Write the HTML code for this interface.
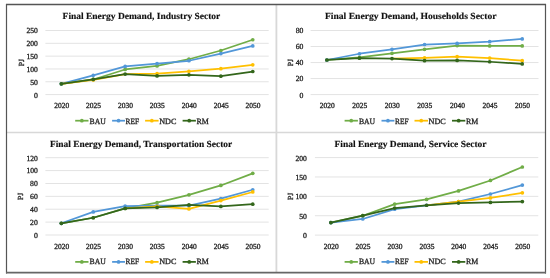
<!DOCTYPE html>
<html><head><meta charset="utf-8"><style>
html,body{margin:0;padding:0;background:#fff;}
body{width:550px;height:278px;overflow:hidden;}
svg{display:block;will-change:transform;font-family:"Liberation Serif", serif;text-rendering:geometricPrecision;}
text{fill:#1f1f1f;stroke:#1f1f1f;stroke-width:0.3px;}
text.t{stroke:#111;stroke-width:0.15px;fill:#111;}
</style></head><body>
<svg width="550" height="278" viewBox="0 0 550 278">
<line x1="276.4" y1="5" x2="276.4" y2="272" stroke="#D8D8D8" stroke-width="1.8"/>
<line x1="6" y1="132.5" x2="545" y2="132.5" stroke="#D8D8D8" stroke-width="1.6"/>
<line x1="45.4" y1="94.6" x2="268.7" y2="94.6" stroke="#E3E3E3" stroke-width="1"/>
<text x="37.9" y="97.5" text-anchor="end" textLength="3.9" lengthAdjust="spacingAndGlyphs" font-size="7.8">0</text>
<line x1="45.4" y1="81.78" x2="268.7" y2="81.78" stroke="#E3E3E3" stroke-width="1"/>
<text x="37.9" y="84.68" text-anchor="end" textLength="7.7" lengthAdjust="spacingAndGlyphs" font-size="7.8">50</text>
<line x1="45.4" y1="68.96" x2="268.7" y2="68.96" stroke="#E3E3E3" stroke-width="1"/>
<text x="37.9" y="71.86" text-anchor="end" textLength="11.4" lengthAdjust="spacingAndGlyphs" font-size="7.8">100</text>
<line x1="45.4" y1="56.14" x2="268.7" y2="56.14" stroke="#E3E3E3" stroke-width="1"/>
<text x="37.9" y="59.04" text-anchor="end" textLength="11.4" lengthAdjust="spacingAndGlyphs" font-size="7.8">150</text>
<line x1="45.4" y1="43.32" x2="268.7" y2="43.32" stroke="#E3E3E3" stroke-width="1"/>
<text x="37.9" y="46.22" text-anchor="end" textLength="11.4" lengthAdjust="spacingAndGlyphs" font-size="7.8">200</text>
<line x1="45.4" y1="30.5" x2="268.7" y2="30.5" stroke="#E3E3E3" stroke-width="1"/>
<text x="37.9" y="33.4" text-anchor="end" textLength="11.4" lengthAdjust="spacingAndGlyphs" font-size="7.8">250</text>
<text transform="translate(23.6,62.55) rotate(-90)" text-anchor="middle" font-size="7.8">PJ</text>
<text x="61.65" y="108.2" text-anchor="middle" textLength="15.0" lengthAdjust="spacingAndGlyphs" font-size="7.8">2020</text>
<text x="93.55" y="108.2" text-anchor="middle" textLength="15.0" lengthAdjust="spacingAndGlyphs" font-size="7.8">2025</text>
<text x="125.45" y="108.2" text-anchor="middle" textLength="15.0" lengthAdjust="spacingAndGlyphs" font-size="7.8">2030</text>
<text x="157.35" y="108.2" text-anchor="middle" textLength="15.0" lengthAdjust="spacingAndGlyphs" font-size="7.8">2035</text>
<text x="189.25" y="108.2" text-anchor="middle" textLength="15.0" lengthAdjust="spacingAndGlyphs" font-size="7.8">2040</text>
<text x="221.15" y="108.2" text-anchor="middle" textLength="15.0" lengthAdjust="spacingAndGlyphs" font-size="7.8">2045</text>
<text x="253.05" y="108.2" text-anchor="middle" textLength="15.0" lengthAdjust="spacingAndGlyphs" font-size="7.8">2050</text>
<polyline points="61.35,83.83 93.25,79.47 125.15,69.47 157.05,65.88 188.95,59.22 220.85,50.5 252.75,39.73" fill="none" stroke="#70AD47" stroke-width="1.75" stroke-linejoin="round" stroke-linecap="round"/>
<circle cx="61.35" cy="83.83" r="1.85" fill="#70AD47"/>
<circle cx="93.25" cy="79.47" r="1.85" fill="#70AD47"/>
<circle cx="125.15" cy="69.47" r="1.85" fill="#70AD47"/>
<circle cx="157.05" cy="65.88" r="1.85" fill="#70AD47"/>
<circle cx="188.95" cy="59.22" r="1.85" fill="#70AD47"/>
<circle cx="220.85" cy="50.5" r="1.85" fill="#70AD47"/>
<circle cx="252.75" cy="39.73" r="1.85" fill="#70AD47"/>
<polyline points="61.35,83.83 93.25,75.37 125.15,66.4 157.05,63.58 188.95,60.76 220.85,53.58 252.75,45.88" fill="none" stroke="#5297D8" stroke-width="1.75" stroke-linejoin="round" stroke-linecap="round"/>
<circle cx="61.35" cy="83.83" r="1.85" fill="#5297D8"/>
<circle cx="93.25" cy="75.37" r="1.85" fill="#5297D8"/>
<circle cx="125.15" cy="66.4" r="1.85" fill="#5297D8"/>
<circle cx="157.05" cy="63.58" r="1.85" fill="#5297D8"/>
<circle cx="188.95" cy="60.76" r="1.85" fill="#5297D8"/>
<circle cx="220.85" cy="53.58" r="1.85" fill="#5297D8"/>
<circle cx="252.75" cy="45.88" r="1.85" fill="#5297D8"/>
<polyline points="61.35,83.83 93.25,79.99 125.15,74.09 157.05,73.58 188.95,71.27 220.85,68.7 252.75,64.86" fill="none" stroke="#FFC000" stroke-width="1.75" stroke-linejoin="round" stroke-linecap="round"/>
<circle cx="93.25" cy="79.99" r="1.85" fill="#FFC000"/>
<circle cx="157.05" cy="73.58" r="1.85" fill="#FFC000"/>
<circle cx="188.95" cy="71.27" r="1.85" fill="#FFC000"/>
<circle cx="220.85" cy="68.7" r="1.85" fill="#FFC000"/>
<circle cx="252.75" cy="64.86" r="1.85" fill="#FFC000"/>
<polyline points="61.35,83.83 93.25,79.47 125.15,74.09 157.05,75.88 188.95,74.86 220.85,76.14 252.75,71.52" fill="none" stroke="#33661B" stroke-width="1.75" stroke-linejoin="round" stroke-linecap="round"/>
<circle cx="61.35" cy="83.83" r="1.85" fill="#33661B"/>
<circle cx="93.25" cy="79.47" r="1.85" fill="#33661B"/>
<circle cx="125.15" cy="74.09" r="1.85" fill="#33661B"/>
<circle cx="157.05" cy="75.88" r="1.85" fill="#33661B"/>
<circle cx="188.95" cy="74.86" r="1.85" fill="#33661B"/>
<circle cx="220.85" cy="76.14" r="1.85" fill="#33661B"/>
<circle cx="252.75" cy="71.52" r="1.85" fill="#33661B"/>
<text x="62.6" y="19" textLength="157.7" lengthAdjust="spacingAndGlyphs" font-size="9.3" font-weight="bold" class="t">Final Energy Demand, Industry Sector</text>
<line x1="75.2" y1="120.7" x2="88.5" y2="120.7" stroke="#70AD47" stroke-width="1.75"/>
<circle cx="81.85" cy="120.7" r="1.85" fill="#70AD47"/>
<text x="89.5" y="124" textLength="16.3" lengthAdjust="spacingAndGlyphs" font-size="8.0">BAU</text>
<line x1="112.1" y1="120.7" x2="125" y2="120.7" stroke="#5297D8" stroke-width="1.75"/>
<circle cx="118.55" cy="120.7" r="1.85" fill="#5297D8"/>
<text x="125.6" y="124" textLength="13.5" lengthAdjust="spacingAndGlyphs" font-size="8.0">REF</text>
<line x1="145.1" y1="120.7" x2="158.6" y2="120.7" stroke="#FFC000" stroke-width="1.75"/>
<circle cx="151.85" cy="120.7" r="1.85" fill="#FFC000"/>
<text x="159.2" y="124" textLength="17.2" lengthAdjust="spacingAndGlyphs" font-size="8.0">NDC</text>
<line x1="182.6" y1="120.7" x2="195.9" y2="120.7" stroke="#33661B" stroke-width="1.75"/>
<circle cx="189.25" cy="120.7" r="1.85" fill="#33661B"/>
<text x="196.5" y="124" textLength="12.3" lengthAdjust="spacingAndGlyphs" font-size="8.0">RM</text>
<line x1="310.6" y1="94.6" x2="538.5" y2="94.6" stroke="#E3E3E3" stroke-width="1"/>
<text x="303.4" y="97.5" text-anchor="end" textLength="3.9" lengthAdjust="spacingAndGlyphs" font-size="7.8">0</text>
<line x1="310.6" y1="78.57" x2="538.5" y2="78.57" stroke="#E3E3E3" stroke-width="1"/>
<text x="303.4" y="81.47" text-anchor="end" textLength="7.7" lengthAdjust="spacingAndGlyphs" font-size="7.8">20</text>
<line x1="310.6" y1="62.55" x2="538.5" y2="62.55" stroke="#E3E3E3" stroke-width="1"/>
<text x="303.4" y="65.45" text-anchor="end" textLength="7.7" lengthAdjust="spacingAndGlyphs" font-size="7.8">40</text>
<line x1="310.6" y1="46.52" x2="538.5" y2="46.52" stroke="#E3E3E3" stroke-width="1"/>
<text x="303.4" y="49.42" text-anchor="end" textLength="7.7" lengthAdjust="spacingAndGlyphs" font-size="7.8">60</text>
<line x1="310.6" y1="30.5" x2="538.5" y2="30.5" stroke="#E3E3E3" stroke-width="1"/>
<text x="303.4" y="33.4" text-anchor="end" textLength="7.7" lengthAdjust="spacingAndGlyphs" font-size="7.8">80</text>
<text transform="translate(292.8,62.55) rotate(-90)" text-anchor="middle" font-size="7.8">PJ</text>
<text x="327.18" y="108.2" text-anchor="middle" textLength="15.0" lengthAdjust="spacingAndGlyphs" font-size="7.8">2020</text>
<text x="359.74" y="108.2" text-anchor="middle" textLength="15.0" lengthAdjust="spacingAndGlyphs" font-size="7.8">2025</text>
<text x="392.29" y="108.2" text-anchor="middle" textLength="15.0" lengthAdjust="spacingAndGlyphs" font-size="7.8">2030</text>
<text x="424.85" y="108.2" text-anchor="middle" textLength="15.0" lengthAdjust="spacingAndGlyphs" font-size="7.8">2035</text>
<text x="457.41" y="108.2" text-anchor="middle" textLength="15.0" lengthAdjust="spacingAndGlyphs" font-size="7.8">2040</text>
<text x="489.96" y="108.2" text-anchor="middle" textLength="15.0" lengthAdjust="spacingAndGlyphs" font-size="7.8">2045</text>
<text x="522.52" y="108.2" text-anchor="middle" textLength="15.0" lengthAdjust="spacingAndGlyphs" font-size="7.8">2050</text>
<polyline points="326.88,59.99 359.44,57.34 391.99,53.34 424.55,49.33 457.11,45.56 489.66,45.88 522.22,45.88" fill="none" stroke="#70AD47" stroke-width="1.75" stroke-linejoin="round" stroke-linecap="round"/>
<circle cx="326.88" cy="59.99" r="1.85" fill="#70AD47"/>
<circle cx="359.44" cy="57.34" r="1.85" fill="#70AD47"/>
<circle cx="391.99" cy="53.34" r="1.85" fill="#70AD47"/>
<circle cx="424.55" cy="49.33" r="1.85" fill="#70AD47"/>
<circle cx="457.11" cy="45.56" r="1.85" fill="#70AD47"/>
<circle cx="489.66" cy="45.88" r="1.85" fill="#70AD47"/>
<circle cx="522.22" cy="45.88" r="1.85" fill="#70AD47"/>
<polyline points="326.88,59.99 359.44,53.74 391.99,49.33 424.55,44.52 457.11,43.4 489.66,41.72 522.22,38.91" fill="none" stroke="#5297D8" stroke-width="1.75" stroke-linejoin="round" stroke-linecap="round"/>
<circle cx="326.88" cy="59.99" r="1.85" fill="#5297D8"/>
<circle cx="359.44" cy="53.74" r="1.85" fill="#5297D8"/>
<circle cx="391.99" cy="49.33" r="1.85" fill="#5297D8"/>
<circle cx="424.55" cy="44.52" r="1.85" fill="#5297D8"/>
<circle cx="457.11" cy="43.4" r="1.85" fill="#5297D8"/>
<circle cx="489.66" cy="41.72" r="1.85" fill="#5297D8"/>
<circle cx="522.22" cy="38.91" r="1.85" fill="#5297D8"/>
<polyline points="391.99,58.54 424.55,57.9 457.11,56.7 489.66,58.06 522.22,60.63" fill="none" stroke="#FFC000" stroke-width="1.75" stroke-linejoin="round" stroke-linecap="round"/>
<circle cx="424.55" cy="57.9" r="1.85" fill="#FFC000"/>
<circle cx="457.11" cy="56.7" r="1.85" fill="#FFC000"/>
<circle cx="489.66" cy="58.06" r="1.85" fill="#FFC000"/>
<circle cx="522.22" cy="60.63" r="1.85" fill="#FFC000"/>
<polyline points="326.88,59.99 359.44,58.14 391.99,58.54 424.55,60.71 457.11,60.39 489.66,61.75 522.22,63.91" fill="none" stroke="#33661B" stroke-width="1.75" stroke-linejoin="round" stroke-linecap="round"/>
<circle cx="326.88" cy="59.99" r="1.85" fill="#33661B"/>
<circle cx="359.44" cy="58.14" r="1.85" fill="#33661B"/>
<circle cx="391.99" cy="58.54" r="1.85" fill="#33661B"/>
<circle cx="424.55" cy="60.71" r="1.85" fill="#33661B"/>
<circle cx="457.11" cy="60.39" r="1.85" fill="#33661B"/>
<circle cx="489.66" cy="61.75" r="1.85" fill="#33661B"/>
<circle cx="522.22" cy="63.91" r="1.85" fill="#33661B"/>
<text x="324.9" y="19" textLength="171.6" lengthAdjust="spacingAndGlyphs" font-size="9.3" font-weight="bold" class="t">Final Energy Demand, Households Sector</text>
<line x1="344.6" y1="120.7" x2="357.9" y2="120.7" stroke="#70AD47" stroke-width="1.75"/>
<circle cx="351.25" cy="120.7" r="1.85" fill="#70AD47"/>
<text x="358.9" y="124" textLength="16.3" lengthAdjust="spacingAndGlyphs" font-size="8.0">BAU</text>
<line x1="381.5" y1="120.7" x2="394.4" y2="120.7" stroke="#5297D8" stroke-width="1.75"/>
<circle cx="387.95" cy="120.7" r="1.85" fill="#5297D8"/>
<text x="395" y="124" textLength="13.5" lengthAdjust="spacingAndGlyphs" font-size="8.0">REF</text>
<line x1="414.5" y1="120.7" x2="428" y2="120.7" stroke="#FFC000" stroke-width="1.75"/>
<circle cx="421.25" cy="120.7" r="1.85" fill="#FFC000"/>
<text x="428.6" y="124" textLength="17.2" lengthAdjust="spacingAndGlyphs" font-size="8.0">NDC</text>
<line x1="452" y1="120.7" x2="465.3" y2="120.7" stroke="#33661B" stroke-width="1.75"/>
<circle cx="458.65" cy="120.7" r="1.85" fill="#33661B"/>
<text x="465.9" y="124" textLength="12.3" lengthAdjust="spacingAndGlyphs" font-size="8.0">RM</text>
<line x1="45.4" y1="235" x2="268.7" y2="235" stroke="#E3E3E3" stroke-width="1"/>
<text x="37.8" y="237.9" text-anchor="end" textLength="3.9" lengthAdjust="spacingAndGlyphs" font-size="7.8">0</text>
<line x1="45.4" y1="222.12" x2="268.7" y2="222.12" stroke="#E3E3E3" stroke-width="1"/>
<text x="37.8" y="225.02" text-anchor="end" textLength="7.7" lengthAdjust="spacingAndGlyphs" font-size="7.8">20</text>
<line x1="45.4" y1="209.23" x2="268.7" y2="209.23" stroke="#E3E3E3" stroke-width="1"/>
<text x="37.8" y="212.13" text-anchor="end" textLength="7.7" lengthAdjust="spacingAndGlyphs" font-size="7.8">40</text>
<line x1="45.4" y1="196.35" x2="268.7" y2="196.35" stroke="#E3E3E3" stroke-width="1"/>
<text x="37.8" y="199.25" text-anchor="end" textLength="7.7" lengthAdjust="spacingAndGlyphs" font-size="7.8">60</text>
<line x1="45.4" y1="183.47" x2="268.7" y2="183.47" stroke="#E3E3E3" stroke-width="1"/>
<text x="37.8" y="186.37" text-anchor="end" textLength="7.7" lengthAdjust="spacingAndGlyphs" font-size="7.8">80</text>
<line x1="45.4" y1="170.58" x2="268.7" y2="170.58" stroke="#E3E3E3" stroke-width="1"/>
<text x="37.8" y="173.48" text-anchor="end" textLength="11.4" lengthAdjust="spacingAndGlyphs" font-size="7.8">100</text>
<line x1="45.4" y1="157.7" x2="268.7" y2="157.7" stroke="#E3E3E3" stroke-width="1"/>
<text x="37.8" y="160.6" text-anchor="end" textLength="11.4" lengthAdjust="spacingAndGlyphs" font-size="7.8">120</text>
<text transform="translate(23.4,196.35) rotate(-90)" text-anchor="middle" font-size="7.8">PJ</text>
<text x="61.65" y="249" text-anchor="middle" textLength="15.0" lengthAdjust="spacingAndGlyphs" font-size="7.8">2020</text>
<text x="93.55" y="249" text-anchor="middle" textLength="15.0" lengthAdjust="spacingAndGlyphs" font-size="7.8">2025</text>
<text x="125.45" y="249" text-anchor="middle" textLength="15.0" lengthAdjust="spacingAndGlyphs" font-size="7.8">2030</text>
<text x="157.35" y="249" text-anchor="middle" textLength="15.0" lengthAdjust="spacingAndGlyphs" font-size="7.8">2035</text>
<text x="189.25" y="249" text-anchor="middle" textLength="15.0" lengthAdjust="spacingAndGlyphs" font-size="7.8">2040</text>
<text x="221.15" y="249" text-anchor="middle" textLength="15.0" lengthAdjust="spacingAndGlyphs" font-size="7.8">2045</text>
<text x="253.05" y="249" text-anchor="middle" textLength="15.0" lengthAdjust="spacingAndGlyphs" font-size="7.8">2050</text>
<polyline points="61.35,223.28 93.25,217.74 125.15,208.46 157.05,202.6 188.95,194.8 220.85,185.46 252.75,173.35" fill="none" stroke="#70AD47" stroke-width="1.75" stroke-linejoin="round" stroke-linecap="round"/>
<circle cx="61.35" cy="223.28" r="1.85" fill="#70AD47"/>
<circle cx="93.25" cy="217.74" r="1.85" fill="#70AD47"/>
<circle cx="125.15" cy="208.46" r="1.85" fill="#70AD47"/>
<circle cx="157.05" cy="202.6" r="1.85" fill="#70AD47"/>
<circle cx="188.95" cy="194.8" r="1.85" fill="#70AD47"/>
<circle cx="220.85" cy="185.46" r="1.85" fill="#70AD47"/>
<circle cx="252.75" cy="173.35" r="1.85" fill="#70AD47"/>
<polyline points="61.35,223.28 93.25,211.94 125.15,206.14 157.05,205.63 188.95,205.63 220.85,198.6 252.75,189.78" fill="none" stroke="#5297D8" stroke-width="1.75" stroke-linejoin="round" stroke-linecap="round"/>
<circle cx="61.35" cy="223.28" r="1.85" fill="#5297D8"/>
<circle cx="93.25" cy="211.94" r="1.85" fill="#5297D8"/>
<circle cx="125.15" cy="206.14" r="1.85" fill="#5297D8"/>
<circle cx="157.05" cy="205.63" r="1.85" fill="#5297D8"/>
<circle cx="188.95" cy="205.63" r="1.85" fill="#5297D8"/>
<circle cx="220.85" cy="198.6" r="1.85" fill="#5297D8"/>
<circle cx="252.75" cy="189.78" r="1.85" fill="#5297D8"/>
<polyline points="125.15,208.46 157.05,206.33 188.95,208.91 220.85,200.6 252.75,191.97" fill="none" stroke="#FFC000" stroke-width="1.75" stroke-linejoin="round" stroke-linecap="round"/>
<circle cx="157.05" cy="206.33" r="1.85" fill="#FFC000"/>
<circle cx="188.95" cy="208.91" r="1.85" fill="#FFC000"/>
<circle cx="220.85" cy="200.6" r="1.85" fill="#FFC000"/>
<circle cx="252.75" cy="191.97" r="1.85" fill="#FFC000"/>
<polyline points="61.35,223.28 93.25,217.74 125.15,208.46 157.05,207.43 188.95,204.92 220.85,206.4 252.75,204.14" fill="none" stroke="#33661B" stroke-width="1.75" stroke-linejoin="round" stroke-linecap="round"/>
<circle cx="61.35" cy="223.28" r="1.85" fill="#33661B"/>
<circle cx="93.25" cy="217.74" r="1.85" fill="#33661B"/>
<circle cx="125.15" cy="208.46" r="1.85" fill="#33661B"/>
<circle cx="157.05" cy="207.43" r="1.85" fill="#33661B"/>
<circle cx="188.95" cy="204.92" r="1.85" fill="#33661B"/>
<circle cx="220.85" cy="206.4" r="1.85" fill="#33661B"/>
<circle cx="252.75" cy="204.14" r="1.85" fill="#33661B"/>
<text x="49.9" y="147" textLength="182.3" lengthAdjust="spacingAndGlyphs" font-size="9.3" font-weight="bold" class="t">Final Energy Demand, Transportation Sector</text>
<line x1="75.2" y1="261.9" x2="88.5" y2="261.9" stroke="#70AD47" stroke-width="1.75"/>
<circle cx="81.85" cy="261.9" r="1.85" fill="#70AD47"/>
<text x="89.5" y="264.1" textLength="16.3" lengthAdjust="spacingAndGlyphs" font-size="8.0">BAU</text>
<line x1="112.1" y1="261.9" x2="125" y2="261.9" stroke="#5297D8" stroke-width="1.75"/>
<circle cx="118.55" cy="261.9" r="1.85" fill="#5297D8"/>
<text x="125.6" y="264.1" textLength="13.5" lengthAdjust="spacingAndGlyphs" font-size="8.0">REF</text>
<line x1="145.1" y1="261.9" x2="158.6" y2="261.9" stroke="#FFC000" stroke-width="1.75"/>
<circle cx="151.85" cy="261.9" r="1.85" fill="#FFC000"/>
<text x="159.2" y="264.1" textLength="17.2" lengthAdjust="spacingAndGlyphs" font-size="8.0">NDC</text>
<line x1="182.6" y1="261.9" x2="195.9" y2="261.9" stroke="#33661B" stroke-width="1.75"/>
<circle cx="189.25" cy="261.9" r="1.85" fill="#33661B"/>
<text x="196.5" y="264.1" textLength="12.3" lengthAdjust="spacingAndGlyphs" font-size="8.0">RM</text>
<line x1="314.9" y1="235.1" x2="538.3" y2="235.1" stroke="#E3E3E3" stroke-width="1"/>
<text x="306.9" y="238" text-anchor="end" textLength="3.9" lengthAdjust="spacingAndGlyphs" font-size="7.8">0</text>
<line x1="314.9" y1="215.72" x2="538.3" y2="215.72" stroke="#E3E3E3" stroke-width="1"/>
<text x="306.9" y="218.62" text-anchor="end" textLength="7.7" lengthAdjust="spacingAndGlyphs" font-size="7.8">50</text>
<line x1="314.9" y1="196.35" x2="538.3" y2="196.35" stroke="#E3E3E3" stroke-width="1"/>
<text x="306.9" y="199.25" text-anchor="end" textLength="11.4" lengthAdjust="spacingAndGlyphs" font-size="7.8">100</text>
<line x1="314.9" y1="176.97" x2="538.3" y2="176.97" stroke="#E3E3E3" stroke-width="1"/>
<text x="306.9" y="179.88" text-anchor="end" textLength="11.4" lengthAdjust="spacingAndGlyphs" font-size="7.8">150</text>
<line x1="314.9" y1="157.6" x2="538.3" y2="157.6" stroke="#E3E3E3" stroke-width="1"/>
<text x="306.9" y="160.5" text-anchor="end" textLength="11.4" lengthAdjust="spacingAndGlyphs" font-size="7.8">200</text>
<text transform="translate(292.8,196.35) rotate(-90)" text-anchor="middle" font-size="7.8">PJ</text>
<text x="331.16" y="249" text-anchor="middle" textLength="15.0" lengthAdjust="spacingAndGlyphs" font-size="7.8">2020</text>
<text x="363.07" y="249" text-anchor="middle" textLength="15.0" lengthAdjust="spacingAndGlyphs" font-size="7.8">2025</text>
<text x="394.99" y="249" text-anchor="middle" textLength="15.0" lengthAdjust="spacingAndGlyphs" font-size="7.8">2030</text>
<text x="426.9" y="249" text-anchor="middle" textLength="15.0" lengthAdjust="spacingAndGlyphs" font-size="7.8">2035</text>
<text x="458.81" y="249" text-anchor="middle" textLength="15.0" lengthAdjust="spacingAndGlyphs" font-size="7.8">2040</text>
<text x="490.73" y="249" text-anchor="middle" textLength="15.0" lengthAdjust="spacingAndGlyphs" font-size="7.8">2045</text>
<text x="522.64" y="249" text-anchor="middle" textLength="15.0" lengthAdjust="spacingAndGlyphs" font-size="7.8">2050</text>
<polyline points="330.86,222.58 362.77,215.72 394.69,204.1 426.6,199.45 458.51,190.93 490.43,180.46 522.34,167.02" fill="none" stroke="#70AD47" stroke-width="1.75" stroke-linejoin="round" stroke-linecap="round"/>
<circle cx="330.86" cy="222.58" r="1.85" fill="#70AD47"/>
<circle cx="362.77" cy="215.72" r="1.85" fill="#70AD47"/>
<circle cx="394.69" cy="204.1" r="1.85" fill="#70AD47"/>
<circle cx="426.6" cy="199.45" r="1.85" fill="#70AD47"/>
<circle cx="458.51" cy="190.93" r="1.85" fill="#70AD47"/>
<circle cx="490.43" cy="180.46" r="1.85" fill="#70AD47"/>
<circle cx="522.34" cy="167.02" r="1.85" fill="#70AD47"/>
<polyline points="330.86,222.58 362.77,218.98 394.69,209.14 426.6,205.26 458.51,201.54 490.43,194.02 522.34,185.11" fill="none" stroke="#5297D8" stroke-width="1.75" stroke-linejoin="round" stroke-linecap="round"/>
<circle cx="330.86" cy="222.58" r="1.85" fill="#5297D8"/>
<circle cx="362.77" cy="218.98" r="1.85" fill="#5297D8"/>
<circle cx="394.69" cy="209.14" r="1.85" fill="#5297D8"/>
<circle cx="426.6" cy="205.26" r="1.85" fill="#5297D8"/>
<circle cx="458.51" cy="201.54" r="1.85" fill="#5297D8"/>
<circle cx="490.43" cy="194.02" r="1.85" fill="#5297D8"/>
<circle cx="522.34" cy="185.11" r="1.85" fill="#5297D8"/>
<polyline points="426.6,205.26 458.51,201.54 490.43,197.9 522.34,192.86" fill="none" stroke="#FFC000" stroke-width="1.75" stroke-linejoin="round" stroke-linecap="round"/>
<circle cx="458.51" cy="201.54" r="1.85" fill="#FFC000"/>
<circle cx="490.43" cy="197.9" r="1.85" fill="#FFC000"/>
<circle cx="522.34" cy="192.86" r="1.85" fill="#FFC000"/>
<polyline points="330.86,222.58 362.77,215.72 394.69,208.05 426.6,205.26 458.51,203.05 490.43,202.43 522.34,201.54" fill="none" stroke="#33661B" stroke-width="1.75" stroke-linejoin="round" stroke-linecap="round"/>
<circle cx="330.86" cy="222.58" r="1.85" fill="#33661B"/>
<circle cx="362.77" cy="215.72" r="1.85" fill="#33661B"/>
<circle cx="394.69" cy="208.05" r="1.85" fill="#33661B"/>
<circle cx="426.6" cy="205.26" r="1.85" fill="#33661B"/>
<circle cx="458.51" cy="203.05" r="1.85" fill="#33661B"/>
<circle cx="490.43" cy="202.43" r="1.85" fill="#33661B"/>
<circle cx="522.34" cy="201.54" r="1.85" fill="#33661B"/>
<text x="334.5" y="147" textLength="152" lengthAdjust="spacingAndGlyphs" font-size="9.3" font-weight="bold" class="t">Final Energy Demand, Service Sector</text>
<line x1="344.6" y1="261.9" x2="357.9" y2="261.9" stroke="#70AD47" stroke-width="1.75"/>
<circle cx="351.25" cy="261.9" r="1.85" fill="#70AD47"/>
<text x="358.9" y="264.1" textLength="16.3" lengthAdjust="spacingAndGlyphs" font-size="8.0">BAU</text>
<line x1="381.5" y1="261.9" x2="394.4" y2="261.9" stroke="#5297D8" stroke-width="1.75"/>
<circle cx="387.95" cy="261.9" r="1.85" fill="#5297D8"/>
<text x="395" y="264.1" textLength="13.5" lengthAdjust="spacingAndGlyphs" font-size="8.0">REF</text>
<line x1="414.5" y1="261.9" x2="428" y2="261.9" stroke="#FFC000" stroke-width="1.75"/>
<circle cx="421.25" cy="261.9" r="1.85" fill="#FFC000"/>
<text x="428.6" y="264.1" textLength="17.2" lengthAdjust="spacingAndGlyphs" font-size="8.0">NDC</text>
<line x1="452" y1="261.9" x2="465.3" y2="261.9" stroke="#33661B" stroke-width="1.75"/>
<circle cx="458.65" cy="261.9" r="1.85" fill="#33661B"/>
<text x="465.9" y="264.1" textLength="12.3" lengthAdjust="spacingAndGlyphs" font-size="8.0">RM</text>
<line x1="6" y1="4.5" x2="546" y2="4.5" stroke="#555555" stroke-width="1.4"/>
<line x1="6.5" y1="4" x2="6.5" y2="273.5" stroke="#555555" stroke-width="1.2"/>
<line x1="545.5" y1="4" x2="545.5" y2="273.5" stroke="#555555" stroke-width="1.2"/>
<line x1="6" y1="272.7" x2="546" y2="272.7" stroke="#666" stroke-width="1.8"/>
</svg>
</body></html>
